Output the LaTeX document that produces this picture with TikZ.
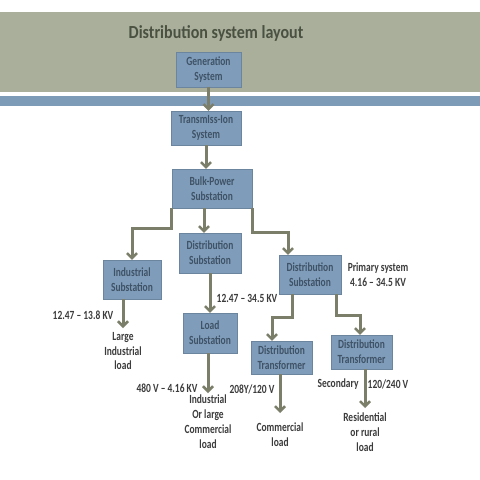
\documentclass[tikz,border=0pt]{standalone}
\usepackage{fontspec}
\setmainfont{Carlito}
\usetikzlibrary{arrows.meta}
\definecolor{bandgray}{HTML}{A9AF9B}
\definecolor{bandblue}{HTML}{7D9BB6}
\definecolor{boxblue}{HTML}{7F9DBA}
\definecolor{boxtext}{HTML}{3F5266}
\definecolor{arrowgray}{HTML}{7B7E69}
\definecolor{titletext}{HTML}{4A5140}
\definecolor{labeltext}{HTML}{3C3C3C}

\begin{document}
\begin{tikzpicture}[x=1bp, y=-1bp,
    box/.style={rectangle, fill=boxblue, draw=boxblue!85!black, line width=0.4bp, text=boxtext,
      font=\bfseries\fontsize{12.5}{14.8}\selectfont, align=center, inner sep=0pt, xscale=0.76},
    lbl/.style={text=labeltext, font=\bfseries\fontsize{12.5}{14.8}\selectfont, align=center,
      inner sep=0pt, xscale=0.76},
    title/.style={text=titletext, font=\bfseries\fontsize{18.5}{20}\selectfont, inner sep=0pt, xscale=0.87},
    arr/.style={draw=arrowgray, line width=3bp, -{Straight Barb[length=5bp, width=10bp, line width=2.5bp]}}]
     \useasboundingbox (0,0) rectangle (480,480);
     \fill[white] (0,0) rectangle (480,480);
     \fill[bandgray] (0,12) rectangle (480,92);
     \fill[bandblue] (0,96) rectangle (480,106);

     \node[title] (ttl) at (216,33) {Distribution system layout};

     \node[box, minimum width=85.5bp, minimum height=35bp] (gen) at (208.5,69.5) {Generation\\System};
     \node[box, minimum width=92.1bp, minimum height=34bp] (trans) at (206,128) {TransmIss-Ion\\System};
     \node[box, minimum width=105.3bp, minimum height=39bp] (bulk) at (212,188.5) {Bulk-Power\\Substation};
     \node[box, minimum width=81.6bp, minimum height=40bp] (dsub) at (210,253) {Distribution\\Substation};
     \node[box, minimum width=76.3bp, minimum height=39bp] (isub) at (132,279.5) {Industrial\\Substation};
     \node[box, minimum width=81.6bp, minimum height=39bp] (psub) at (310,274.5) {Distribution\\Substation};
     \node[box, minimum width=71bp, minimum height=40bp] (lsub) at (210,333) {Load\\Substation};
     \node[box, minimum width=80.3bp, minimum height=33bp] (ctr) at (281.5,357.5) {Distribution\\Transformer};
     \node[box, minimum width=80.3bp, minimum height=34bp] (rtr) at (361.5,352) {Distribution\\Transformer};

     \node[lbl] (v1) at (247,298) {12.47 -- 34.5 KV};
     \node[lbl] (v2) at (83,315) {12.47 -- 13.8 KV};
     \node[lbl] (v3) at (167,388) {480 V -- 4.16 KV};
     \node[lbl] (v4) at (252,389) {208Y/120 V};
     \node[lbl] (v5) at (378,275) {Primary system\\4.16 -- 34.5 KV};
     \node[lbl] (sec) at (338,384) {Secondary};
     \node[lbl] (v6) at (388,384) {120/240 V};
     \node[lbl, anchor=north] (lil) at (123,332) {Large\\Industrial\\load};
     \node[lbl, anchor=north] (icl) at (208,395) {Industrial\\Or large\\Commercial\\load};
     \node[lbl, anchor=north] (cl) at (280,423) {Commercial\\load};
     \node[lbl, anchor=north] (rrl) at (365,413) {Residential\\or rural\\load};

     \draw[arr] (gen.south) -- (gen.south |- trans.north);
     \draw[arr] (trans.south) -- (trans.south |- bulk.north);
     \draw[arr] ([xshift=-8bp]bulk.south) -- ([xshift=-8bp]bulk.south |- dsub.north);
     \draw[arr] (bulk.south west) -- ++(0,20) -| (isub.north);
     \draw[arr] (bulk.south east) -- ++(0,24) -| ([xshift=-22bp]psub.north);
     \draw[arr] (isub.south -| lil.north) -- ([yshift=4bp]lil.north);
     \draw[arr] (dsub.south) -- (lsub.north);
     \draw[arr] (lsub.south -| icl.north) -- ([yshift=2bp]icl.north);
     \draw[arr] ([xshift=-18bp]psub.south) -- ++(0,23) -| ([xshift=-9.5bp]ctr.north);
     \draw[arr] ([xshift=26bp]psub.south) -- ++(0,21) -| ([xshift=-1.5bp]rtr.north);
     \draw[arr] (ctr.south -| cl.north) -- ([yshift=10bp]cl.north);
     \draw[arr] (rtr.south -| rrl.north) -- ([yshift=5bp]rrl.north);
 \end{tikzpicture}
\end{document}
